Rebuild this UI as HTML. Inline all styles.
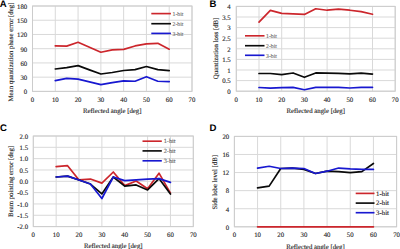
<!DOCTYPE html><html><head><meta charset="utf-8"><style>html,body{margin:0;padding:0;background:#fff;width:400px;height:249px;overflow:hidden}svg{display:block}</style></head><body>
<svg width="400" height="249" viewBox="0 0 400 249" font-family='"Liberation Serif", serif'>
<rect width="400" height="249" fill="#fff"/><g>
<line x1="32.50" y1="91.40" x2="192.00" y2="91.40" stroke="#d9d9d9" stroke-width="1.0"/>
<text transform="translate(27.20,94.20) skewX(0.4)" font-size="6.8" text-anchor="end" fill="#222" stroke="#222" stroke-width="0.12">0</text>
<line x1="32.50" y1="77.17" x2="192.00" y2="77.17" stroke="#d9d9d9" stroke-width="1.0"/>
<text transform="translate(27.20,79.97) skewX(0.4)" font-size="6.8" text-anchor="end" fill="#222" stroke="#222" stroke-width="0.12">30</text>
<line x1="32.50" y1="62.93" x2="192.00" y2="62.93" stroke="#d9d9d9" stroke-width="1.0"/>
<text transform="translate(27.20,65.73) skewX(0.4)" font-size="6.8" text-anchor="end" fill="#222" stroke="#222" stroke-width="0.12">60</text>
<line x1="32.50" y1="48.70" x2="192.00" y2="48.70" stroke="#d9d9d9" stroke-width="1.0"/>
<text transform="translate(27.20,51.50) skewX(0.4)" font-size="6.8" text-anchor="end" fill="#222" stroke="#222" stroke-width="0.12">90</text>
<line x1="32.50" y1="34.47" x2="192.00" y2="34.47" stroke="#d9d9d9" stroke-width="1.0"/>
<text transform="translate(27.20,37.27) skewX(0.4)" font-size="6.8" text-anchor="end" fill="#222" stroke="#222" stroke-width="0.12">120</text>
<line x1="32.50" y1="20.23" x2="192.00" y2="20.23" stroke="#d9d9d9" stroke-width="1.0"/>
<text transform="translate(27.20,23.03) skewX(0.4)" font-size="6.8" text-anchor="end" fill="#222" stroke="#222" stroke-width="0.12">150</text>
<line x1="32.50" y1="6.00" x2="192.00" y2="6.00" stroke="#d9d9d9" stroke-width="1.0"/>
<text transform="translate(27.20,8.80) skewX(0.4)" font-size="6.8" text-anchor="end" fill="#222" stroke="#222" stroke-width="0.12">180</text>
<line x1="32.50" y1="6.00" x2="32.50" y2="91.40" stroke="#d9d9d9" stroke-width="1.0"/>
<text transform="translate(32.50,102.10) skewX(0.4)" font-size="6.8" text-anchor="middle" fill="#222" stroke="#222" stroke-width="0.12">0</text>
<line x1="55.29" y1="6.00" x2="55.29" y2="91.40" stroke="#d9d9d9" stroke-width="1.0"/>
<text transform="translate(55.29,102.10) skewX(0.4)" font-size="6.8" text-anchor="middle" fill="#222" stroke="#222" stroke-width="0.12">10</text>
<line x1="78.07" y1="6.00" x2="78.07" y2="91.40" stroke="#d9d9d9" stroke-width="1.0"/>
<text transform="translate(78.07,102.10) skewX(0.4)" font-size="6.8" text-anchor="middle" fill="#222" stroke="#222" stroke-width="0.12">20</text>
<line x1="100.86" y1="6.00" x2="100.86" y2="91.40" stroke="#d9d9d9" stroke-width="1.0"/>
<text transform="translate(100.86,102.10) skewX(0.4)" font-size="6.8" text-anchor="middle" fill="#222" stroke="#222" stroke-width="0.12">30</text>
<line x1="123.64" y1="6.00" x2="123.64" y2="91.40" stroke="#d9d9d9" stroke-width="1.0"/>
<text transform="translate(123.64,102.10) skewX(0.4)" font-size="6.8" text-anchor="middle" fill="#222" stroke="#222" stroke-width="0.12">40</text>
<line x1="146.43" y1="6.00" x2="146.43" y2="91.40" stroke="#d9d9d9" stroke-width="1.0"/>
<text transform="translate(146.43,102.10) skewX(0.4)" font-size="6.8" text-anchor="middle" fill="#222" stroke="#222" stroke-width="0.12">50</text>
<line x1="169.21" y1="6.00" x2="169.21" y2="91.40" stroke="#d9d9d9" stroke-width="1.0"/>
<text transform="translate(169.21,102.10) skewX(0.4)" font-size="6.8" text-anchor="middle" fill="#222" stroke="#222" stroke-width="0.12">60</text>
<line x1="192.00" y1="6.00" x2="192.00" y2="91.40" stroke="#d9d9d9" stroke-width="1.0"/>
<text transform="translate(192.00,102.10) skewX(0.4)" font-size="6.8" text-anchor="middle" fill="#222" stroke="#222" stroke-width="0.12">70</text>
<rect x="32.50" y="6.00" width="159.50" height="85.40" fill="none" stroke="#cccccc" stroke-width="1.0"/>
<text transform="translate(112.25,113.30) skewX(0.4)" font-size="6.8" text-anchor="middle" fill="#222" stroke="#222" stroke-width="0.12">Reflected angle [deg]</text>
<text transform="translate(13.10,52.00) rotate(-90) skewX(0.4)" font-size="6.8" text-anchor="middle" fill="#222" stroke="#222" stroke-width="0.12">Mean quantization phase error [deg]</text>
<polyline points="55.29,45.85 66.68,46.09 78.07,42.29 89.46,47.28 100.86,52.26 112.25,49.89 123.64,49.32 135.04,45.95 146.43,43.96 157.82,43.34 169.21,49.17" fill="none" stroke="#cc262c" stroke-width="1.7" stroke-linejoin="round" stroke-linecap="round"/>
<polyline points="55.29,69.01 66.68,67.58 78.07,65.59 89.46,69.86 100.86,73.99 112.25,72.47 123.64,70.48 135.04,69.67 146.43,66.54 157.82,69.67 169.21,70.62" fill="none" stroke="#0a0a0a" stroke-width="1.7" stroke-linejoin="round" stroke-linecap="round"/>
<polyline points="55.29,80.68 66.68,78.35 78.07,79.16 89.46,81.91 100.86,84.66 112.25,82.62 123.64,80.82 135.04,81.25 146.43,76.69 157.82,81.25 169.21,81.67" fill="none" stroke="#1818d0" stroke-width="1.7" stroke-linejoin="round" stroke-linecap="round"/>
<line x1="151.3" y1="13.6" x2="170.9" y2="13.6" stroke="#cc262c" stroke-width="1.65"/>
<text transform="translate(172.50,15.80) skewX(0.4)" font-size="5.8" text-anchor="start" fill="#707070" stroke="#707070" stroke-width="0.12">1-bit</text>
<line x1="151.3" y1="23.7" x2="170.9" y2="23.7" stroke="#0a0a0a" stroke-width="1.65"/>
<text transform="translate(172.50,25.90) skewX(0.4)" font-size="5.8" text-anchor="start" fill="#707070" stroke="#707070" stroke-width="0.12">2-bit</text>
<line x1="151.3" y1="33.4" x2="170.9" y2="33.4" stroke="#1818d0" stroke-width="1.65"/>
<text transform="translate(172.50,35.60) skewX(0.4)" font-size="5.8" text-anchor="start" fill="#707070" stroke="#707070" stroke-width="0.12">3-bit</text>
<text transform="translate(-0.20,7.40) skewX(0.4)" font-size="9.6" text-anchor="start" fill="#000" stroke="#000" stroke-width="0" font-family='"Liberation Sans", sans-serif' font-weight="bold">A</text>
<line x1="236.30" y1="91.20" x2="395.20" y2="91.20" stroke="#d9d9d9" stroke-width="1.0"/>
<text transform="translate(230.70,94.00) skewX(0.4)" font-size="6.8" text-anchor="end" fill="#222" stroke="#222" stroke-width="0.12">0</text>
<line x1="236.30" y1="80.60" x2="395.20" y2="80.60" stroke="#d9d9d9" stroke-width="1.0"/>
<text transform="translate(230.70,83.40) skewX(0.4)" font-size="6.8" text-anchor="end" fill="#222" stroke="#222" stroke-width="0.12">0.5</text>
<line x1="236.30" y1="70.00" x2="395.20" y2="70.00" stroke="#d9d9d9" stroke-width="1.0"/>
<text transform="translate(230.70,72.80) skewX(0.4)" font-size="6.8" text-anchor="end" fill="#222" stroke="#222" stroke-width="0.12">1</text>
<line x1="236.30" y1="59.40" x2="395.20" y2="59.40" stroke="#d9d9d9" stroke-width="1.0"/>
<text transform="translate(230.70,62.20) skewX(0.4)" font-size="6.8" text-anchor="end" fill="#222" stroke="#222" stroke-width="0.12">1.5</text>
<line x1="236.30" y1="48.80" x2="395.20" y2="48.80" stroke="#d9d9d9" stroke-width="1.0"/>
<text transform="translate(230.70,51.60) skewX(0.4)" font-size="6.8" text-anchor="end" fill="#222" stroke="#222" stroke-width="0.12">2</text>
<line x1="236.30" y1="38.20" x2="395.20" y2="38.20" stroke="#d9d9d9" stroke-width="1.0"/>
<text transform="translate(230.70,41.00) skewX(0.4)" font-size="6.8" text-anchor="end" fill="#222" stroke="#222" stroke-width="0.12">2.5</text>
<line x1="236.30" y1="27.60" x2="395.20" y2="27.60" stroke="#d9d9d9" stroke-width="1.0"/>
<text transform="translate(230.70,30.40) skewX(0.4)" font-size="6.8" text-anchor="end" fill="#222" stroke="#222" stroke-width="0.12">3</text>
<line x1="236.30" y1="17.00" x2="395.20" y2="17.00" stroke="#d9d9d9" stroke-width="1.0"/>
<text transform="translate(230.70,19.80) skewX(0.4)" font-size="6.8" text-anchor="end" fill="#222" stroke="#222" stroke-width="0.12">3.5</text>
<line x1="236.30" y1="6.40" x2="395.20" y2="6.40" stroke="#d9d9d9" stroke-width="1.0"/>
<text transform="translate(230.70,9.20) skewX(0.4)" font-size="6.8" text-anchor="end" fill="#222" stroke="#222" stroke-width="0.12">4</text>
<line x1="236.30" y1="6.40" x2="236.30" y2="91.20" stroke="#d9d9d9" stroke-width="1.0"/>
<text transform="translate(236.30,102.10) skewX(0.4)" font-size="6.8" text-anchor="middle" fill="#222" stroke="#222" stroke-width="0.12">0</text>
<line x1="259.00" y1="6.40" x2="259.00" y2="91.20" stroke="#d9d9d9" stroke-width="1.0"/>
<text transform="translate(259.00,102.10) skewX(0.4)" font-size="6.8" text-anchor="middle" fill="#222" stroke="#222" stroke-width="0.12">10</text>
<line x1="281.70" y1="6.40" x2="281.70" y2="91.20" stroke="#d9d9d9" stroke-width="1.0"/>
<text transform="translate(281.70,102.10) skewX(0.4)" font-size="6.8" text-anchor="middle" fill="#222" stroke="#222" stroke-width="0.12">20</text>
<line x1="304.40" y1="6.40" x2="304.40" y2="91.20" stroke="#d9d9d9" stroke-width="1.0"/>
<text transform="translate(304.40,102.10) skewX(0.4)" font-size="6.8" text-anchor="middle" fill="#222" stroke="#222" stroke-width="0.12">30</text>
<line x1="327.10" y1="6.40" x2="327.10" y2="91.20" stroke="#d9d9d9" stroke-width="1.0"/>
<text transform="translate(327.10,102.10) skewX(0.4)" font-size="6.8" text-anchor="middle" fill="#222" stroke="#222" stroke-width="0.12">40</text>
<line x1="349.80" y1="6.40" x2="349.80" y2="91.20" stroke="#d9d9d9" stroke-width="1.0"/>
<text transform="translate(349.80,102.10) skewX(0.4)" font-size="6.8" text-anchor="middle" fill="#222" stroke="#222" stroke-width="0.12">50</text>
<line x1="372.50" y1="6.40" x2="372.50" y2="91.20" stroke="#d9d9d9" stroke-width="1.0"/>
<text transform="translate(372.50,102.10) skewX(0.4)" font-size="6.8" text-anchor="middle" fill="#222" stroke="#222" stroke-width="0.12">60</text>
<line x1="395.20" y1="6.40" x2="395.20" y2="91.20" stroke="#d9d9d9" stroke-width="1.0"/>
<text transform="translate(395.20,102.10) skewX(0.4)" font-size="6.8" text-anchor="middle" fill="#222" stroke="#222" stroke-width="0.12">70</text>
<rect x="236.30" y="6.40" width="158.90" height="84.80" fill="none" stroke="#cccccc" stroke-width="1.0"/>
<text transform="translate(315.75,113.30) skewX(0.4)" font-size="6.8" text-anchor="middle" fill="#222" stroke="#222" stroke-width="0.12">Reflected angle [deg]</text>
<text transform="translate(218.20,48.40) rotate(-90) skewX(0.4)" font-size="6.8" text-anchor="middle" fill="#222" stroke="#222" stroke-width="0.12">Quantization loss [dB]</text>
<polyline points="259.00,22.09 270.35,10.43 281.70,13.40 293.05,13.82 304.40,14.46 315.75,8.73 327.10,10.22 338.45,9.16 349.80,10.22 361.15,11.70 372.50,14.24" fill="none" stroke="#cc262c" stroke-width="1.7" stroke-linejoin="round" stroke-linecap="round"/>
<polyline points="259.00,73.50 270.35,73.50 281.70,74.66 293.05,72.97 304.40,77.31 315.75,72.97 327.10,73.18 338.45,73.39 349.80,73.82 361.15,73.18 372.50,74.03" fill="none" stroke="#0a0a0a" stroke-width="1.7" stroke-linejoin="round" stroke-linecap="round"/>
<polyline points="259.00,87.49 270.35,88.13 281.70,87.70 293.05,87.38 304.40,89.72 315.75,87.38 327.10,87.28 338.45,87.28 349.80,88.02 361.15,87.28 372.50,87.28" fill="none" stroke="#1818d0" stroke-width="1.7" stroke-linejoin="round" stroke-linecap="round"/>
<line x1="245" y1="35.8" x2="264.5" y2="35.8" stroke="#cc262c" stroke-width="1.65"/>
<text transform="translate(266.00,38.00) skewX(0.4)" font-size="5.8" text-anchor="start" fill="#707070" stroke="#707070" stroke-width="0.12">1-bit</text>
<line x1="245" y1="45.7" x2="264.5" y2="45.7" stroke="#0a0a0a" stroke-width="1.65"/>
<text transform="translate(266.00,47.90) skewX(0.4)" font-size="5.8" text-anchor="start" fill="#707070" stroke="#707070" stroke-width="0.12">2-bit</text>
<line x1="245" y1="55.3" x2="264.5" y2="55.3" stroke="#1818d0" stroke-width="1.65"/>
<text transform="translate(266.00,57.50) skewX(0.4)" font-size="5.8" text-anchor="start" fill="#707070" stroke="#707070" stroke-width="0.12">3-bit</text>
<text transform="translate(209.40,6.70) skewX(0.4)" font-size="9.6" text-anchor="start" fill="#000" stroke="#000" stroke-width="0" font-family='"Liberation Sans", sans-serif' font-weight="bold">B</text>
<line x1="33.30" y1="226.60" x2="193.30" y2="226.60" stroke="#d9d9d9" stroke-width="1.0"/>
<text transform="translate(28.10,229.40) skewX(0.4)" font-size="6.8" text-anchor="end" fill="#222" stroke="#222" stroke-width="0.12">-2.0</text>
<line x1="33.30" y1="215.28" x2="193.30" y2="215.28" stroke="#d9d9d9" stroke-width="1.0"/>
<text transform="translate(28.10,218.08) skewX(0.4)" font-size="6.8" text-anchor="end" fill="#222" stroke="#222" stroke-width="0.12">-1.5</text>
<line x1="33.30" y1="203.95" x2="193.30" y2="203.95" stroke="#d9d9d9" stroke-width="1.0"/>
<text transform="translate(28.10,206.75) skewX(0.4)" font-size="6.8" text-anchor="end" fill="#222" stroke="#222" stroke-width="0.12">-1.0</text>
<line x1="33.30" y1="192.62" x2="193.30" y2="192.62" stroke="#d9d9d9" stroke-width="1.0"/>
<text transform="translate(28.10,195.43) skewX(0.4)" font-size="6.8" text-anchor="end" fill="#222" stroke="#222" stroke-width="0.12">-0.5</text>
<line x1="33.30" y1="181.30" x2="193.30" y2="181.30" stroke="#d9d9d9" stroke-width="1.0"/>
<text transform="translate(28.10,184.10) skewX(0.4)" font-size="6.8" text-anchor="end" fill="#222" stroke="#222" stroke-width="0.12">0.0</text>
<line x1="33.30" y1="169.97" x2="193.30" y2="169.97" stroke="#d9d9d9" stroke-width="1.0"/>
<text transform="translate(28.10,172.78) skewX(0.4)" font-size="6.8" text-anchor="end" fill="#222" stroke="#222" stroke-width="0.12">0.5</text>
<line x1="33.30" y1="158.65" x2="193.30" y2="158.65" stroke="#d9d9d9" stroke-width="1.0"/>
<text transform="translate(28.10,161.45) skewX(0.4)" font-size="6.8" text-anchor="end" fill="#222" stroke="#222" stroke-width="0.12">1.0</text>
<line x1="33.30" y1="147.32" x2="193.30" y2="147.32" stroke="#d9d9d9" stroke-width="1.0"/>
<text transform="translate(28.10,150.12) skewX(0.4)" font-size="6.8" text-anchor="end" fill="#222" stroke="#222" stroke-width="0.12">1.5</text>
<line x1="33.30" y1="136.00" x2="193.30" y2="136.00" stroke="#d9d9d9" stroke-width="1.0"/>
<text transform="translate(28.10,138.80) skewX(0.4)" font-size="6.8" text-anchor="end" fill="#222" stroke="#222" stroke-width="0.12">2.0</text>
<line x1="33.30" y1="136.00" x2="33.30" y2="226.60" stroke="#d9d9d9" stroke-width="1.0"/>
<text transform="translate(33.30,237.40) skewX(0.4)" font-size="6.8" text-anchor="middle" fill="#222" stroke="#222" stroke-width="0.12">0</text>
<line x1="56.16" y1="136.00" x2="56.16" y2="226.60" stroke="#d9d9d9" stroke-width="1.0"/>
<text transform="translate(56.16,237.40) skewX(0.4)" font-size="6.8" text-anchor="middle" fill="#222" stroke="#222" stroke-width="0.12">10</text>
<line x1="79.01" y1="136.00" x2="79.01" y2="226.60" stroke="#d9d9d9" stroke-width="1.0"/>
<text transform="translate(79.01,237.40) skewX(0.4)" font-size="6.8" text-anchor="middle" fill="#222" stroke="#222" stroke-width="0.12">20</text>
<line x1="101.87" y1="136.00" x2="101.87" y2="226.60" stroke="#d9d9d9" stroke-width="1.0"/>
<text transform="translate(101.87,237.40) skewX(0.4)" font-size="6.8" text-anchor="middle" fill="#222" stroke="#222" stroke-width="0.12">30</text>
<line x1="124.73" y1="136.00" x2="124.73" y2="226.60" stroke="#d9d9d9" stroke-width="1.0"/>
<text transform="translate(124.73,237.40) skewX(0.4)" font-size="6.8" text-anchor="middle" fill="#222" stroke="#222" stroke-width="0.12">40</text>
<line x1="147.59" y1="136.00" x2="147.59" y2="226.60" stroke="#d9d9d9" stroke-width="1.0"/>
<text transform="translate(147.59,237.40) skewX(0.4)" font-size="6.8" text-anchor="middle" fill="#222" stroke="#222" stroke-width="0.12">50</text>
<line x1="170.44" y1="136.00" x2="170.44" y2="226.60" stroke="#d9d9d9" stroke-width="1.0"/>
<text transform="translate(170.44,237.40) skewX(0.4)" font-size="6.8" text-anchor="middle" fill="#222" stroke="#222" stroke-width="0.12">60</text>
<line x1="193.30" y1="136.00" x2="193.30" y2="226.60" stroke="#d9d9d9" stroke-width="1.0"/>
<text transform="translate(193.30,237.40) skewX(0.4)" font-size="6.8" text-anchor="middle" fill="#222" stroke="#222" stroke-width="0.12">70</text>
<rect x="33.30" y="136.00" width="160.00" height="90.60" fill="none" stroke="#cccccc" stroke-width="1.0"/>
<text transform="translate(113.30,248.40) skewX(0.4)" font-size="6.8" text-anchor="middle" fill="#222" stroke="#222" stroke-width="0.12">Reflected angle [deg]</text>
<text transform="translate(13.10,181.30) rotate(-90) skewX(0.4)" font-size="6.8" text-anchor="middle" fill="#222" stroke="#222" stroke-width="0.12">Beam pointing error [deg]</text>
<polyline points="56.16,166.58 67.59,165.67 79.01,179.94 90.44,179.03 101.87,183.11 113.30,172.01 124.73,185.60 136.16,181.07 147.59,188.77 159.01,173.15 170.44,193.08" fill="none" stroke="#cc262c" stroke-width="1.7" stroke-linejoin="round" stroke-linecap="round"/>
<polyline points="56.16,177.00 67.59,176.09 79.01,179.94 90.44,184.02 101.87,193.98 113.30,177.00 124.73,186.06 136.16,184.92 147.59,189.91 159.01,178.58 170.44,193.98" fill="none" stroke="#0a0a0a" stroke-width="1.7" stroke-linejoin="round" stroke-linecap="round"/>
<polyline points="56.16,177.00 67.59,176.09 79.01,179.94 90.44,184.02 101.87,198.51 113.30,177.00 124.73,180.62 136.16,179.94 147.59,179.03 159.01,178.58 170.44,182.43" fill="none" stroke="#1818d0" stroke-width="1.7" stroke-linejoin="round" stroke-linecap="round"/>
<line x1="142.5" y1="141.2" x2="161.8" y2="141.2" stroke="#cc262c" stroke-width="1.65"/>
<text transform="translate(163.70,143.40) skewX(0.4)" font-size="6.3" text-anchor="start" fill="#686868" stroke="#686868" stroke-width="0.12">1-bit</text>
<line x1="142.5" y1="150.9" x2="161.8" y2="150.9" stroke="#0a0a0a" stroke-width="1.65"/>
<text transform="translate(163.70,153.10) skewX(0.4)" font-size="6.3" text-anchor="start" fill="#686868" stroke="#686868" stroke-width="0.12">2-bit</text>
<line x1="142.5" y1="160.8" x2="161.8" y2="160.8" stroke="#1818d0" stroke-width="1.65"/>
<text transform="translate(163.70,163.00) skewX(0.4)" font-size="6.3" text-anchor="start" fill="#686868" stroke="#686868" stroke-width="0.12">3-bit</text>
<text transform="translate(0.00,130.50) skewX(0.4)" font-size="9.6" text-anchor="start" fill="#000" stroke="#000" stroke-width="0" font-family='"Liberation Sans", sans-serif' font-weight="bold">C</text>
<line x1="234.40" y1="226.80" x2="396.60" y2="226.80" stroke="#d9d9d9" stroke-width="1.0"/>
<text transform="translate(229.20,229.60) skewX(0.4)" font-size="6.8" text-anchor="end" fill="#222" stroke="#222" stroke-width="0.12">0</text>
<line x1="234.40" y1="208.72" x2="396.60" y2="208.72" stroke="#d9d9d9" stroke-width="1.0"/>
<text transform="translate(229.20,211.52) skewX(0.4)" font-size="6.8" text-anchor="end" fill="#222" stroke="#222" stroke-width="0.12">4</text>
<line x1="234.40" y1="190.64" x2="396.60" y2="190.64" stroke="#d9d9d9" stroke-width="1.0"/>
<text transform="translate(229.20,193.44) skewX(0.4)" font-size="6.8" text-anchor="end" fill="#222" stroke="#222" stroke-width="0.12">8</text>
<line x1="234.40" y1="172.56" x2="396.60" y2="172.56" stroke="#d9d9d9" stroke-width="1.0"/>
<text transform="translate(229.20,175.36) skewX(0.4)" font-size="6.8" text-anchor="end" fill="#222" stroke="#222" stroke-width="0.12">12</text>
<line x1="234.40" y1="154.48" x2="396.60" y2="154.48" stroke="#d9d9d9" stroke-width="1.0"/>
<text transform="translate(229.20,157.28) skewX(0.4)" font-size="6.8" text-anchor="end" fill="#222" stroke="#222" stroke-width="0.12">16</text>
<line x1="234.40" y1="136.40" x2="396.60" y2="136.40" stroke="#d9d9d9" stroke-width="1.0"/>
<text transform="translate(229.20,139.20) skewX(0.4)" font-size="6.8" text-anchor="end" fill="#222" stroke="#222" stroke-width="0.12">20</text>
<line x1="234.40" y1="136.40" x2="234.40" y2="226.80" stroke="#d9d9d9" stroke-width="1.0"/>
<text transform="translate(234.40,237.40) skewX(0.4)" font-size="6.8" text-anchor="middle" fill="#222" stroke="#222" stroke-width="0.12">0</text>
<line x1="257.57" y1="136.40" x2="257.57" y2="226.80" stroke="#d9d9d9" stroke-width="1.0"/>
<text transform="translate(257.57,237.40) skewX(0.4)" font-size="6.8" text-anchor="middle" fill="#222" stroke="#222" stroke-width="0.12">10</text>
<line x1="280.74" y1="136.40" x2="280.74" y2="226.80" stroke="#d9d9d9" stroke-width="1.0"/>
<text transform="translate(280.74,237.40) skewX(0.4)" font-size="6.8" text-anchor="middle" fill="#222" stroke="#222" stroke-width="0.12">20</text>
<line x1="303.91" y1="136.40" x2="303.91" y2="226.80" stroke="#d9d9d9" stroke-width="1.0"/>
<text transform="translate(303.91,237.40) skewX(0.4)" font-size="6.8" text-anchor="middle" fill="#222" stroke="#222" stroke-width="0.12">30</text>
<line x1="327.09" y1="136.40" x2="327.09" y2="226.80" stroke="#d9d9d9" stroke-width="1.0"/>
<text transform="translate(327.09,237.40) skewX(0.4)" font-size="6.8" text-anchor="middle" fill="#222" stroke="#222" stroke-width="0.12">40</text>
<line x1="350.26" y1="136.40" x2="350.26" y2="226.80" stroke="#d9d9d9" stroke-width="1.0"/>
<text transform="translate(350.26,237.40) skewX(0.4)" font-size="6.8" text-anchor="middle" fill="#222" stroke="#222" stroke-width="0.12">50</text>
<line x1="373.43" y1="136.40" x2="373.43" y2="226.80" stroke="#d9d9d9" stroke-width="1.0"/>
<text transform="translate(373.43,237.40) skewX(0.4)" font-size="6.8" text-anchor="middle" fill="#222" stroke="#222" stroke-width="0.12">60</text>
<line x1="396.60" y1="136.40" x2="396.60" y2="226.80" stroke="#d9d9d9" stroke-width="1.0"/>
<text transform="translate(396.60,237.40) skewX(0.4)" font-size="6.8" text-anchor="middle" fill="#222" stroke="#222" stroke-width="0.12">70</text>
<rect x="234.40" y="136.40" width="162.20" height="90.40" fill="none" stroke="#cccccc" stroke-width="1.0"/>
<text transform="translate(315.50,249.00) skewX(0.4)" font-size="6.8" text-anchor="middle" fill="#222" stroke="#222" stroke-width="0.12">Reflected angle [deg]</text>
<text transform="translate(217.00,182.20) rotate(-90) skewX(0.4)" font-size="6.8" text-anchor="middle" fill="#222" stroke="#222" stroke-width="0.12">Side lobe level [dB]</text>
<polyline points="257.57,226.80 269.16,226.80 280.74,226.80 292.33,226.80 303.91,226.80 315.50,226.80 327.09,226.80 338.67,226.80 350.26,226.80 361.84,226.80 373.43,226.80" fill="none" stroke="#cc262c" stroke-width="1.7" stroke-linejoin="round" stroke-linecap="round"/>
<polyline points="257.57,187.93 269.16,186.12 280.74,168.49 292.33,168.04 303.91,169.40 315.50,173.46 327.09,171.20 338.67,171.66 350.26,172.56 361.84,171.66 373.43,163.52" fill="none" stroke="#0a0a0a" stroke-width="1.7" stroke-linejoin="round" stroke-linecap="round"/>
<polyline points="257.57,168.04 269.16,166.23 280.74,168.49 292.33,168.04 303.91,168.49 315.50,173.46 327.09,171.20 338.67,168.04 350.26,168.94 361.84,169.40 373.43,169.40" fill="none" stroke="#1818d0" stroke-width="1.7" stroke-linejoin="round" stroke-linecap="round"/>
<line x1="355.7" y1="193.4" x2="374.5" y2="193.4" stroke="#cc262c" stroke-width="1.65"/>
<text transform="translate(376.10,195.60) skewX(0.4)" font-size="6.8" text-anchor="start" fill="#222" stroke="#222" stroke-width="0.12">1-bit</text>
<line x1="355.7" y1="203.1" x2="374.5" y2="203.1" stroke="#0a0a0a" stroke-width="1.65"/>
<text transform="translate(376.10,205.30) skewX(0.4)" font-size="6.8" text-anchor="start" fill="#222" stroke="#222" stroke-width="0.12">2-bit</text>
<line x1="355.7" y1="212.7" x2="374.5" y2="212.7" stroke="#1818d0" stroke-width="1.65"/>
<text transform="translate(376.10,214.90) skewX(0.4)" font-size="6.8" text-anchor="start" fill="#222" stroke="#222" stroke-width="0.12">3-bit</text>
<text transform="translate(209.40,130.60) skewX(0.4)" font-size="9.6" text-anchor="start" fill="#000" stroke="#000" stroke-width="0" font-family='"Liberation Sans", sans-serif' font-weight="bold">D</text>
</g></svg></body></html>
